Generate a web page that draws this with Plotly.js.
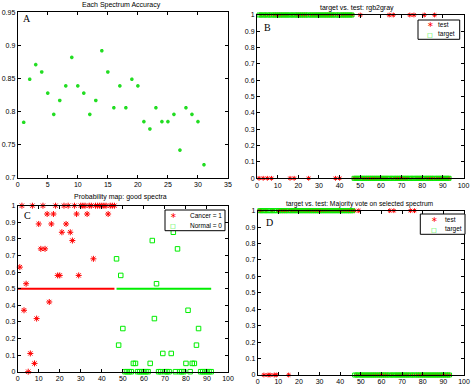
<!DOCTYPE html>
<html>
<head>
<meta charset="utf-8">
<script src="https://cdn.plot.ly/plotly-3.0.1.min.js"></script>
<style>html,body{margin:0;padding:0;background:#fff;}#chart{width:474px;height:387px;}</style>
</head>
<body>
<div id="chart"></div>
<script>
// Panel A: accuracy per spectrum
const spectrumIndex = [1,2,3,4,5,6,7,8,9,10,11,12,13,14,15,16,17,18,19,20,21,22,23,24,25,26,27,28,29,30,31];
const spectrumAccuracy = [0.784,0.849,0.871,0.860,0.828,0.796,0.817,0.839,0.882,0.839,0.828,0.796,0.817,0.892,0.860,0.806,0.839,0.806,0.849,0.839,0.785,0.774,0.806,0.785,0.785,0.796,0.742,0.806,0.796,0.785,0.720];

// Panels B and D: sample index, target labels, test results
const sampleIndex = [1,2,3,4,5,6,7,8,9,10,11,12,13,14,15,16,17,18,19,20,21,22,23,24,25,26,27,28,29,30,31,32,33,34,35,36,37,38,39,40,41,42,43,44,45,46,47,48,49,50,51,52,53,54,55,56,57,58,59,60,61,62,63,64,65,66,67,68,69,70,71,72,73,74,75,76,77,78,79,80,81,82,83,84,85,86,87,88,89,90,91,92,93];
const targetLabel = [
 1,1,1,1,1,1,1,1,1,1,
 1,1,1,1,1,1,1,1,1,1,
 1,1,1,1,1,1,1,1,1,1,
 1,1,1,1,1,1,1,1,1,1,
 1,1,1,1,1,1,0,0,0,0,
 0,0,0,0,0,0,0,0,0,0,
 0,0,0,0,0,0,0,0,0,0,
 0,0,0,0,0,0,0,0,0,0,
 0,0,0,0,0,0,0,0,0,0,
 0,0,0];
const testRgb2gray = [
 0,1,0,1,0,1,0,1,1,1,
 1,1,1,1,1,0,1,0,1,1,
 1,1,1,1,0,1,1,1,1,1,
 1,1,1,1,1,1,1,0,1,0,
 1,1,1,1,1,1,0,0,0,1,
 0,0,0,0,0,0,0,0,0,0,
 0,0,0,1,0,1,0,0,0,0,
 0,0,0,1,0,1,0,0,0,0,
 1,0,0,0,0,1,0,0,0,0,
 0,0,0];
const testMajority = [
 1,1,0,1,0,0,1,0,0,1,
 1,1,1,1,0,1,1,1,1,1,
 1,1,1,1,1,1,1,1,1,1,
 1,1,1,1,1,1,1,1,1,1,
 1,1,1,1,1,1,1,0,1,0,
 0,0,0,0,0,0,0,0,0,0,
 0,0,0,1,0,1,0,0,0,0,
 0,0,0,1,0,1,0,0,0,0,
 0,0,0,0,0,0,0,0,0,0,
 0,0,0];

// Panel C: probability map
const cancerIndex = [1,2,3,4,5,6,7,8,9,10,11,12,13,14,15,16,17,18,19,20,21,22,23,24,25,26,27,28,29,30,31,32,33,34,35,36,37,38,39,40,41,42,43,44,45,46];
const cancerProb = [0.63,1,0.37,0.53,0,0.11,1,0.05,0.32,0.89,0.74,1,0.74,0.95,0.42,0.89,0.95,1,0.58,0.58,0.84,1,0.89,1,0.84,0.79,1,0.95,0.58,1,1,1,0.95,1,1,0.68,1,1,1,1,1,1,0.95,1,1,1];
const normalIndex = [47,48,49,50,51,52,53,54,55,56,57,58,59,60,61,62,63,64,65,66,67,68,69,70,71,72,73,74,75,76,77,78,79,80,81,82,83,84,85,86,87,88,89,90,91,92];
const normalProb = [0.68,0.16,0.58,0.26,0,0,0,0,0.05,0.05,0,0,0,0,0,0,0.05,0.79,0.32,0.53,0,0,0.11,0,0,0,0.11,0.84,0,0.74,0,0,0,0.05,0.37,0,0.05,0.05,0.16,0.26,0,0,0,0,0,0];
const cancerLineX = [0,46];
const normalLineX = [47,92];
const threshold = [0.5,0.5];

// Legend texts
const legendB = ['test','target'];
const legendC = ['Cancer = 1','Normal = 0'];
const legendD = ['test','target'];

const RED = '#ff0000', GREEN = '#00ee00';
const star = (size) => ({symbol:'asterisk-open', size:size, color:RED, line:{color:RED, width:1}});
const sq = (size) => ({symbol:'square-open', size:size, color:GREEN, line:{color:GREEN, width:1}});

const traces = [
  {x:spectrumIndex, y:spectrumAccuracy, xaxis:'x', yaxis:'y', type:'scatter', mode:'markers', cliponaxis:false,
   marker:{symbol:'asterisk-open', size:3, color:'#22dd22', line:{color:'#22dd22', width:1.2}}},
  {x:sampleIndex, y:testRgb2gray, xaxis:'x2', yaxis:'y2', type:'scatter', mode:'markers', name:legendB[0], cliponaxis:false, marker:star(4)},
  {x:sampleIndex, y:targetLabel, xaxis:'x2', yaxis:'y2', type:'scatter', mode:'markers', name:legendB[1], cliponaxis:false, marker:sq(4)},
  {x:cancerIndex, y:cancerProb, xaxis:'x3', yaxis:'y3', type:'scatter', mode:'markers', name:legendC[0], cliponaxis:false, marker:star(5)},
  {x:normalIndex, y:normalProb, xaxis:'x3', yaxis:'y3', type:'scatter', mode:'markers', name:legendC[1], cliponaxis:false, marker:sq(4.5)},
  {x:cancerLineX, y:threshold, xaxis:'x3', yaxis:'y3', type:'scatter', mode:'lines', line:{color:RED, width:2}},
  {x:normalLineX, y:threshold, xaxis:'x3', yaxis:'y3', type:'scatter', mode:'lines', line:{color:GREEN, width:2}},
  {x:sampleIndex, y:testMajority, xaxis:'x4', yaxis:'y4', type:'scatter', mode:'markers', name:legendD[0], cliponaxis:false, marker:star(4)},
  {x:sampleIndex, y:targetLabel, xaxis:'x4', yaxis:'y4', type:'scatter', mode:'markers', name:legendD[1], cliponaxis:false, marker:sq(4)}
];

const ax = (extra) => Object.assign({showline:true, mirror:'ticks', ticks:'inside', ticklen:3, linecolor:'#000', linewidth:1,
  tickcolor:'#000', showgrid:false, zeroline:false, fixedrange:true, tickfont:{size:7, color:'#000'}}, extra);

const H = 387, W = 474;
const py = (p) => 1 - p / H;
const px = (p) => p / W;

const note = (text, x, y, font, xanchor) => ({text:text, x:px(x), y:py(y), xref:'paper', yref:'paper', showarrow:false,
  xanchor:xanchor || 'center', yanchor:'middle', font:font || {size:7}});

// compact legends (box, symbol glyph, label)
function legendBox(x0, y0, x1, y1, symX, textX, y1st, y2nd, labels) {
  shapes.push({type:'rect', xref:'paper', yref:'paper', x0:px(x0), x1:px(x1), y0:py(y1), y1:py(y0),
    line:{color:'#000', width:1}, fillcolor:'#fff', layer:'above'});
  annotations.push(note('\u2217', symX, y1st, {family:'DejaVu Sans, sans-serif', size:8, color:RED}));
  annotations.push(note('\u25A1', symX, y2nd, {family:'DejaVu Sans, sans-serif', size:6, color:GREEN}));
  annotations.push(note(labels[0], textX, y1st, {size:6.5}, 'left'));
  annotations.push(note(labels[1], textX, y2nd, {size:6.5}, 'left'));
}

const shapes = [];
const annotations = [
  note('Each Spectrum Accuracy', 121, 5.5),
  note('target vs. test: rgb2gray', 357, 8),
  note('Probability map: good spectra', 120, 197),
  note('target vs. test: Majority vote on selected spectrum', 360, 204, {size:6.7}),
  note('A', 27, 18.5, {family:'Liberation Serif, serif', size:10}),
  note('B', 267, 28, {family:'Liberation Serif, serif', size:10}),
  note('C', 27, 215.5, {family:'Liberation Serif, serif', size:10}),
  note('D', 269, 222, {family:'Liberation Serif, serif', size:10})
];
legendBox(418, 20, 459.7, 39.3, 430, 436, 25, 34, legendB);
legendBox(165, 210, 225, 230.7, 173, 188, 215, 225, legendC);
legendBox(420.3, 214, 465, 234.3, 434, 443, 219.5, 229, legendD);

const layout = {
  width:W, height:H, margin:{l:0, r:0, t:0, b:0}, paper_bgcolor:'#fff', plot_bgcolor:'#fff',
  font:{family:'Liberation Sans, Arial, sans-serif', size:7, color:'#000'},
  showlegend:false,
  xaxis: ax({domain:[px(17.7), px(228)], range:[0,35], dtick:5, anchor:'y'}),
  yaxis: ax({domain:[py(178), py(12.3)], range:[0.7,0.95], dtick:0.05, anchor:'x'}),
  xaxis2: ax({domain:[px(257), px(463.5)], range:[0,100], dtick:10, anchor:'y2'}),
  yaxis2: ax({domain:[py(178.3), py(15)], range:[0,1], dtick:0.1, anchor:'x2'}),
  xaxis3: ax({domain:[px(17.7), px(228)], range:[0,100], dtick:10, anchor:'y3'}),
  yaxis3: ax({domain:[py(371.7), py(205.7)], range:[0,1], dtick:0.1, anchor:'x3'}),
  xaxis4: ax({domain:[px(257.7), px(464)], range:[0,100], dtick:10, anchor:'y4'}),
  yaxis4: ax({domain:[py(375), py(210.7)], range:[0,1], dtick:0.1, anchor:'x4'}),
  shapes: shapes,
  annotations: annotations
};

Plotly.newPlot('chart', traces, layout, {staticPlot:true, displayModeBar:false});
</script>
</body>
</html>
